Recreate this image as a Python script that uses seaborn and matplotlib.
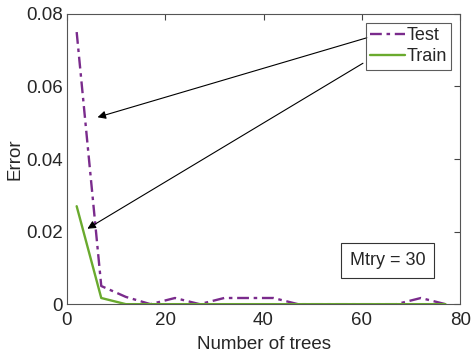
import matplotlib
matplotlib.use("Agg")
import matplotlib.pyplot as plt
import seaborn as sns
import pandas as pd

# number of trees (x) and error values
trees = [2, 7, 12, 17, 22, 27, 32, 37, 42, 47, 52, 57, 62, 67, 72, 77]
test_err = [0.075, 0.005, 0.002, 0.0, 0.0017, 0.0, 0.0017, 0.0017, 0.0017,
            0.0, 0.0, 0.0, 0.0, 0.0, 0.0017, 0.0]
train_err = [0.027, 0.0017, 0.0, 0.0, 0.0, 0.0, 0.0, 0.0, 0.0,
             0.0, 0.0, 0.0, 0.0, 0.0, 0.0, 0.0]

df = pd.DataFrame({"trees": trees, "Test": test_err, "Train": train_err})

sns.set_style("white")
plt.rcParams['font.family'] = ['Liberation Sans', 'DejaVu Sans']

fig, ax = plt.subplots(figsize=(4.74, 3.57), dpi=100)

sns.lineplot(data=df, x="trees", y="Test", ax=ax, color="#7a2b8c",
             linestyle=(0, (5, 2, 1.5, 2)), linewidth=1.7, label="Test")
sns.lineplot(data=df, x="trees", y="Train", ax=ax, color="#6aaa2e",
             linewidth=1.7, label="Train")

ax.set_xlim(0, 80)
ax.set_ylim(0, 0.08)
ax.set_xticks([0, 20, 40, 60, 80])
ax.set_yticks([0, 0.02, 0.04, 0.06, 0.08])
ax.set_yticklabels(["0", "0.02", "0.04", "0.06", "0.08"])
ax.set_xlabel("Number of trees", fontsize=13.5, labelpad=5)
ax.set_ylabel("Error", fontsize=13.5, labelpad=2)
ax.tick_params(labelsize=13.5, direction="in", length=4, top=True, right=True,
               color="#444444", pad=3)
ax.tick_params(axis="x", pad=6)
for s in ax.spines.values():
    s.set_color("#555555")
    s.set_linewidth(0.8)

leg = ax.legend(loc="upper right", fontsize=13, frameon=True, fancybox=False,
                handlelength=1.9, handletextpad=0.1, borderpad=0.25,
                labelspacing=0.2, borderaxespad=0.5)
leg.get_frame().set_edgecolor("#333333")
leg.get_frame().set_linewidth(0.8)

# arrows from legend entries to the curves
ax.annotate("", xy=(5.7, 0.0513), xytext=(61.7, 0.0737),
            arrowprops=dict(arrowstyle="-|>", color="black", lw=0.8,
                            mutation_scale=12))
ax.annotate("", xy=(3.7, 0.0204), xytext=(60.7, 0.0668),
            arrowprops=dict(arrowstyle="-|>", color="black", lw=0.8,
                            mutation_scale=12))

ax.text(65.2, 0.0121, "Mtry = 30", fontsize=13, ha="center", va="center",
        bbox=dict(boxstyle="square,pad=0.5", fc="white", ec="#333333", lw=0.8))

fig.subplots_adjust(left=0.141, right=0.971, top=0.961, bottom=0.148)
fig.savefig("out.png", dpi=100)
